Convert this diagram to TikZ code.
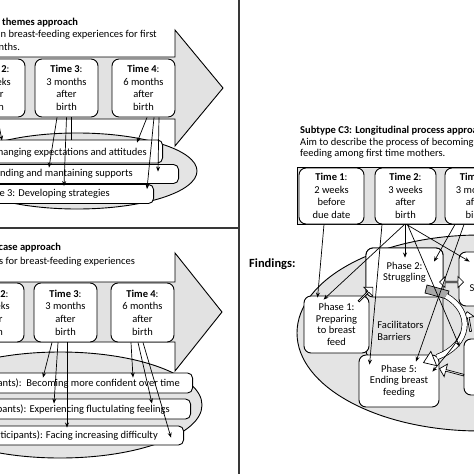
\documentclass[tikz,border=0pt]{standalone}
\usepackage{fontspec}
\setmainfont{Carlito}
\usetikzlibrary{arrows.meta,shapes.arrows,shapes.geometric}
\definecolor{arrowgray}{HTML}{E2E2E2}
\definecolor{ellgray}{HTML}{E4E4E4}
\definecolor{divgray}{HTML}{383838}
\definecolor{stripgray}{HTML}{A8A8A8}
\begin{document}
\begin{tikzpicture}[x=1pt,y=-1pt,
  every node/.style={font=\fontsize{10.5}{12.6}\selectfont, inner sep=0pt},
  timebox/.style={draw, line width=0.9pt, rounded corners=7pt, fill=white, minimum width=63pt, minimum height=58pt, align=center},
  phasebox/.style={draw, line width=0.9pt, rounded corners=5pt, fill=white},
  rphase/.style={draw, line width=0.9pt, rounded corners=7pt, fill=white, align=center, font=\fontsize{10.5}{11.5}\selectfont},
  titlefont/.style={font=\bfseries\fontsize{10.5}{12}\selectfont},
  bigarrow/.style={draw, line width=0.9pt, fill=arrowgray},
  ell/.style={draw, line width=0.9pt, fill=ellgray},
  arr/.style={-{Stealth[length=5pt,width=4pt]}, line width=0.7pt},
  hollow/.style={draw, line width=0.7pt, fill=white},
  divider/.style={draw=divgray, line width=1.4pt}
]
\useasboundingbox (0,0) rectangle (474,474);
\clip (0,0) rectangle (474,474);

% ---------- top-left panel ----------
\node[anchor=west, titlefont] (ta) at (2,23) {themes approach};
\node[anchor=west] (tb) at (0.5,35) {n breast-feeding experiences for first};
\node[anchor=west] (tc) at (-1.5,47) {nths.};
\path[bigarrow] (-5,57) -- (175,57) -- (175,30) -- (223,88) -- (175,146) -- (175,119) -- (-5,119) -- cycle;
\node[timebox] (T2a) at (-6.5,88) {\textbf{Time 2}:\\3 weeks\\after\\birth};
\node[timebox] (T3a) at (66.5,88) {\textbf{Time 3}:\\3 months\\after\\birth};
\node[timebox] (T4a) at (143.5,88) {\textbf{Time 4}:\\6 months\\after\\birth};
\path[ell] (77,171) ellipse [x radius=120, y radius=38];
\node[phasebox, anchor=east, minimum width=260pt, minimum height=19pt] (b3) at (154,194) {};
\node[phasebox, anchor=east, minimum width=260pt, minimum height=19pt] (b2) at (179,174) {};
\node[phasebox, anchor=east, minimum width=260pt, minimum height=23pt] (b1) at (163,151.5) {};
\node[anchor=east] (b1t) at (147,152.5) {Phase 1: Changing expectations and attitudes};
\node[anchor=east] (b2t) at (133,174) {Phase 2: Finding and mantaining supports};
\node[anchor=east] (b3t) at (110,194) {Phase 3: Developing strategies};
\draw[arr] ([xshift=4pt]T2a.south) -- ([xshift=-161pt,yshift=-1pt]b1.north east);
\draw[arr] ([xshift=-9.5pt]T3a.south) -- ([xshift=-130pt,yshift=-3.5pt]b2.north east);
\draw[arr] ([xshift=0pt]T3a.south) -- ([xshift=-90pt,yshift=-2pt]b3.north east);
\draw[line width=0.7pt] ([xshift=4.5pt]T3a.south) -- ([xshift=-92pt]b1.north east);
\draw[arr] ([xshift=3.5pt]T4a.south) -- ([xshift=-26pt,yshift=-3pt]b1.north east);
\draw[arr] ([xshift=10.5pt]T4a.south) -- ([xshift=-7pt,yshift=-5pt]b3.north east);
\draw[arr] ([xshift=15.5pt]T4a.south) -- ([xshift=-21pt,yshift=-7.5pt]b2.north east);

% ---------- bottom-left panel ----------
\node[anchor=west, titlefont] (tba) at (-1.5,248) {case approach};
\node[anchor=west] (tbb) at (-1,262) {s for breast-feeding experiences};
\path[bigarrow] (-5,282) -- (175,282) -- (175,253) -- (222,312) -- (175,371) -- (175,342) -- (-5,342) -- cycle;
\node[timebox, minimum height=59pt] (T2b) at (-7.5,312.5) {\textbf{Time 2}:\\3 weeks\\after\\birth};
\node[timebox, minimum height=59pt] (T3b) at (65.5,312.5) {\textbf{Time 3}:\\3 months\\after\\birth};
\node[timebox, minimum height=59pt] (T4b) at (142.5,312.5) {\textbf{Time 4}:\\6 months\\after\\birth};
\path[ell] (60,405) ellipse [x radius=142, y radius=53];
\node[phasebox, anchor=east, minimum width=260pt, minimum height=19pt] (c3) at (184,435.5) {};
\node[phasebox, anchor=east, minimum width=260pt, minimum height=20pt] (c2) at (191,409) {};
\node[phasebox, anchor=east, minimum width=260pt, minimum height=20pt] (c1) at (193,383) {};
\node[anchor=east] (c1t) at (180,384) {participants):~~Becoming more confident over time};
\node[anchor=east] (c2t) at (170,410) {participants): Experiencing fluctulating feelings};
\node[anchor=east] (c3t) at (158,436) {participants): Facing increasing difficulty};
\draw[arr] ([xshift=-13.5pt]T3b.south) -- ([xshift=-150pt,yshift=-5pt]c1.north east);
\draw[arr] ([xshift=-7.5pt]T3b.south) -- ([xshift=-137pt,yshift=-5pt]c2.north east);
\draw[arr] ([xshift=1.5pt]T3b.south) -- ([xshift=-117pt,yshift=-2pt]c3.north east);
\draw[arr] ([xshift=-11.5pt]T4b.south) -- ([xshift=-60pt,yshift=-5pt]c1.north east);
\draw[arr] ([xshift=-4.5pt]T4b.south) -- ([xshift=-39pt,yshift=-5pt]c2.north east);
\draw[arr] ([xshift=0.5pt]T4b.south) -- ([xshift=-13pt,yshift=-12pt]c3.north east);

% ---------- dividers ----------
\coordinate (dvt) at (239,0);
\coordinate (dvb) at (239,474);
\coordinate (dhl) at (0,228);
\coordinate (dhr) at (239,228);
\draw[divider] (dvt) -- (dvb);
\draw[divider] (dhl) -- (dhr);

% ---------- right panel ----------
\node[anchor=west, titlefont] (rt1) at (300,131) {Subtype C3: Longitudinal process approach};
\node[anchor=west] (rt2) at (300,142.5) {Aim to describe the process of becoming};
\node[anchor=west] (rt3) at (300,154) {feeding among first time mothers.};
\path[bigarrow] (297,167) rectangle (490,224);
\node[timebox, minimum width=65pt, minimum height=56pt] (Tr1) at (331.5,196) {\textbf{Time 1}:\\2 weeks\\before\\due date};
\node[timebox, minimum width=61pt, minimum height=56pt] (Tr2) at (405.5,196) {\textbf{Time 2}:\\3 weeks\\after\\birth};
\node[timebox, minimum width=62pt, minimum height=56pt] (Tr3) at (476,196) {\textbf{Time 3}:\\3 months\\after\\birth};
\node[anchor=west, font=\bfseries\fontsize{12.5}{14}\selectfont] (find) at (249,264) {Findings:};
\path[ell] (480,333) ellipse [x radius=183, y radius=98];

\node[draw, line width=0.9pt, rounded corners=7pt, minimum width=77pt, minimum height=110pt] (core) at (404.5,303) {};
\node[rphase, minimum width=77pt, minimum height=49pt] (P2) at (404.5,272.5) {Phase 2:\\Struggling};
\node[rphase, minimum width=65pt, minimum height=57pt] (P1) at (336.5,324.5) {Phase 1:\\Preparing\\to breast\\feed};
\node[rphase, minimum width=80pt, minimum height=54pt] (P3) at (499,279) {};
\node[anchor=west] (P3t) at (469.5,288) {S};
\node[rphase, minimum width=60pt, minimum height=56pt] (P4) at (494,367) {};
\node[align=left, font=\fontsize{10.5}{12}\selectfont] (fb) at (400.5,331) {Facilitators\\Barriers};
\node[rphase, minimum width=80pt, minimum height=52pt] (P5) at (399,381) {Phase 5:\\Ending breast\\feeding};

% block arrows
\node[single arrow, hollow, minimum height=20pt, minimum width=13pt, single arrow head extend=2.5pt, rotate=45] (ba1) at (365.5,294.5) {};
\node[double arrow, hollow, minimum height=24pt, minimum width=11pt, double arrow head extend=2pt] (ba2) at (451.5,282) {};
\node[single arrow, hollow, minimum height=25pt, minimum width=13pt, single arrow head extend=2.5pt, rotate=165] (ba3) at (452,372) {};
\node[single arrow, hollow, minimum height=20pt, minimum width=12pt, single arrow head extend=2pt, rotate=100] (ba4) at (469,322) {};
\path[draw, line width=0.7pt, fill=stripgray] (427,285) -- (449,291) -- (447,299) -- (425,293) -- cycle;
\coordinate (cv1) at (446,296);
\coordinate (cv2) at (437,357);
\draw[line width=0.7pt, double=white, double distance=4.5pt] (cv1) .. controls (474,312) and (470,345) .. (cv2);
\node[isosceles triangle, hollow, isosceles triangle apex angle=70, minimum height=11pt, minimum width=14pt, rotate=202] (cvh) at (430,360) {};

% thin arrows
\draw[arr] ([xshift=-7.5pt]Tr1.south) -- ([xshift=14pt,yshift=-2pt]P1.north west);
\draw[arr] ([xshift=-1pt]Tr2.south) -- ([xshift=20pt,yshift=-4pt]P1.north west);
\draw[arr] ([xshift=-0.5pt]Tr2.south) -- ([xshift=0.5pt,yshift=-10pt]P2.north);
\draw[arr] ([xshift=1pt]Tr2.south) -- ([xshift=11pt,yshift=-10pt]P3.north west);
\draw[arr] ([xshift=-23.5pt]Tr2.south) -- ([xshift=11pt,yshift=-10pt]P5.north west);
\draw[arr] ([xshift=2pt]Tr2.south) -- ([xshift=-4pt,yshift=-8pt]P4.north west);
\draw[arr] ([xshift=-21pt]Tr3.south) -- ([xshift=29.5pt,yshift=-14pt]P2.north);
\draw[arr] ([xshift=-12pt]Tr3.south) -- ([xshift=17pt,yshift=-7pt]P5.north);
\draw[arr] ([xshift=-3pt,yshift=6pt]P4.north west) .. controls (455,345) .. ([xshift=-7pt,yshift=-17pt]P5.north east);
\end{tikzpicture}
\end{document}
